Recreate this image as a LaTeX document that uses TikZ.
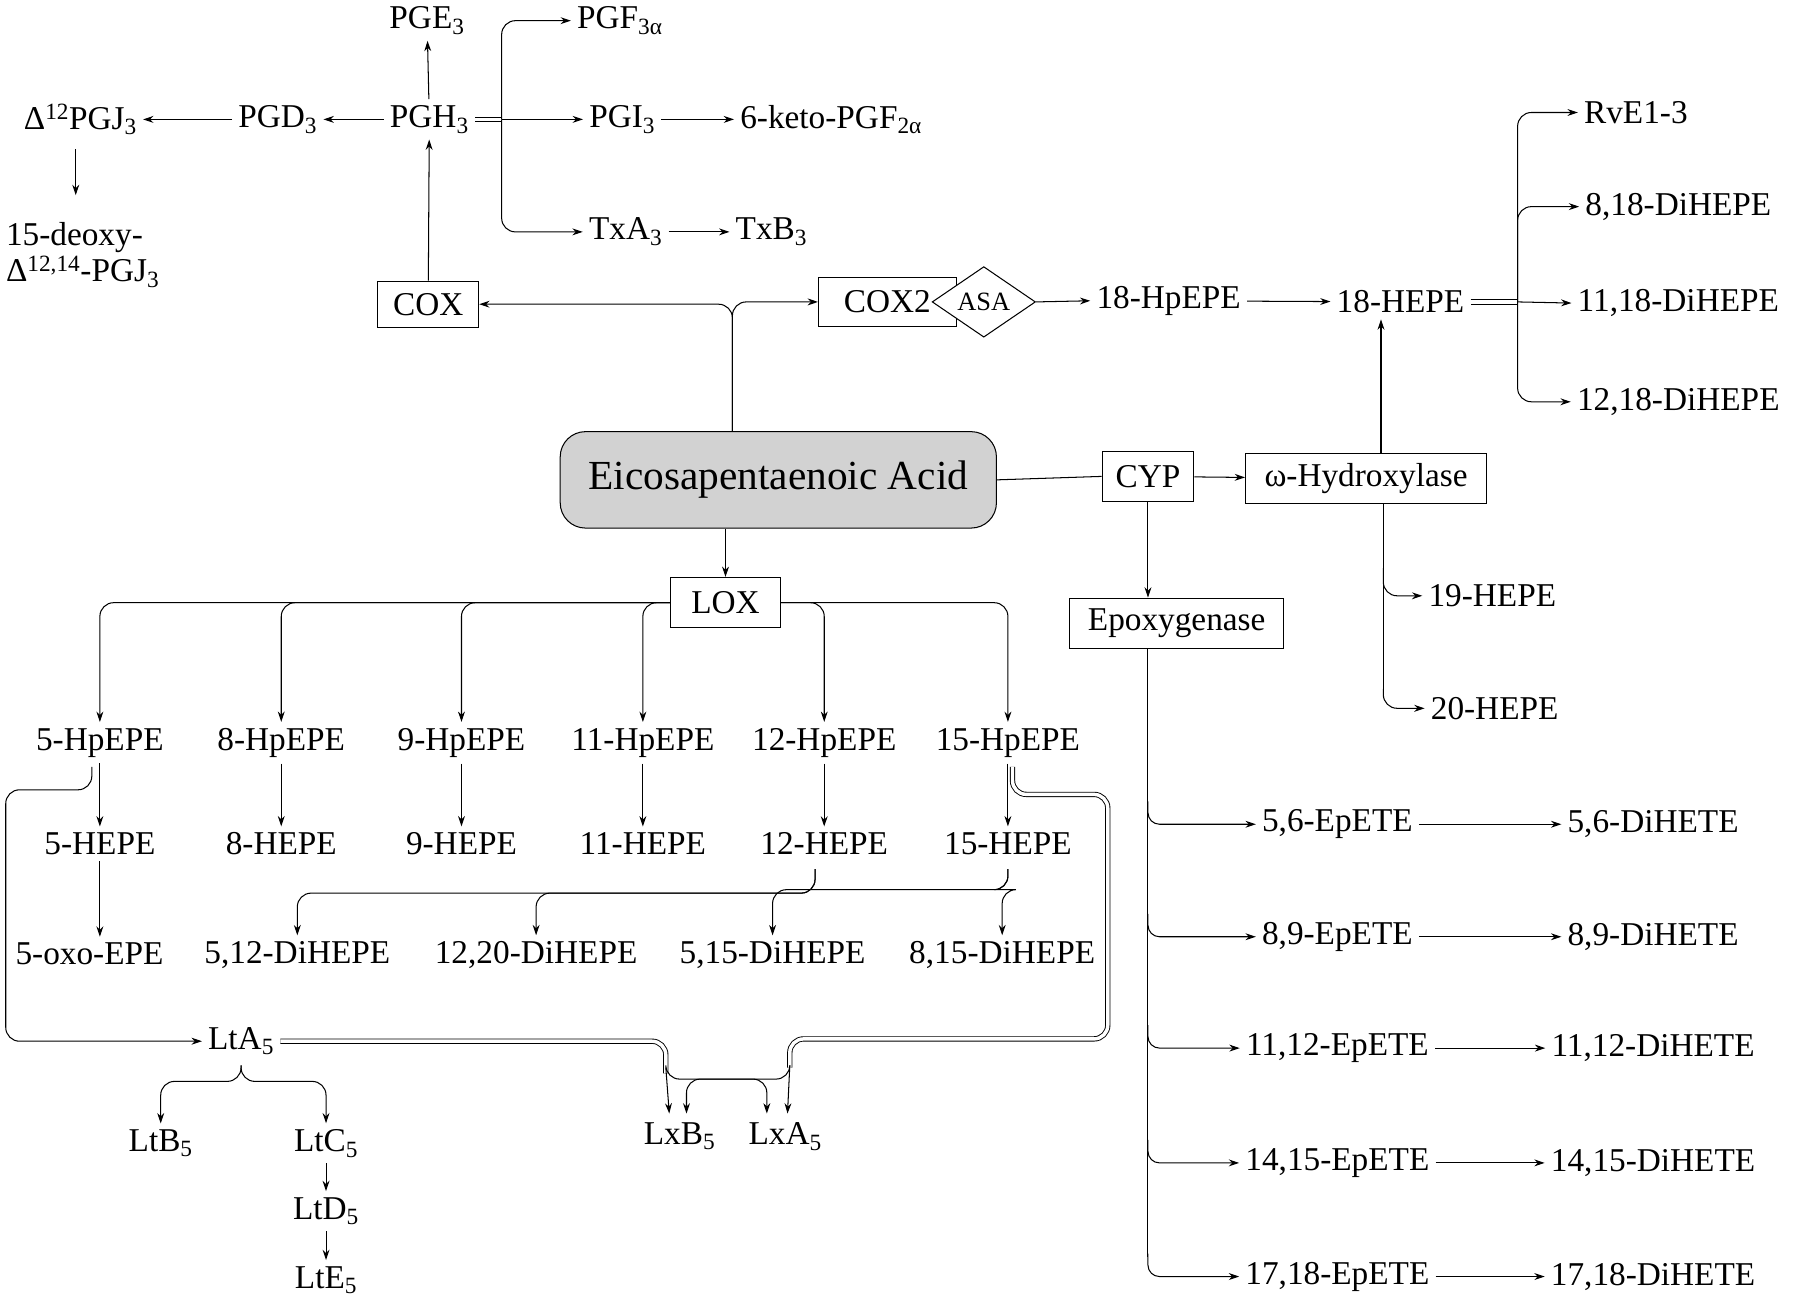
\documentclass[tikz,border=0pt]{standalone}
\usepackage{fontspec}
\setmainfont{Liberation Serif}
\usetikzlibrary{shapes.geometric,arrows.meta}
\newcommand{\fs}{\fontsize{29}{32}\selectfont}
\newcommand{\sub}[1]{\textsubscript{#1}}
\begin{document}
\begin{tikzpicture}[x=1pt,y=-1pt,line width=0.9pt,
 t/.style={font=\fs,inner sep=5pt},
 box/.style={font=\fs,draw,inner sep=0pt,minimum height=44pt},
 arr/.style={-{Stealth[length=9pt,width=6pt]}},
 rc/.style={rounded corners=12pt},
 dbl/.style={double,double distance=3pt,line width=0.8pt}]
\useasboundingbox (0,0) rectangle (1568,1135);
% COX branch
\node[t] (PGE) at (372,18) {PGE\sub{3}};
\node[t] (PGF) at (540,18) {PGF\sub{3α}};
\node[t] (PGJ) at (70,104) {Δ\textsuperscript{12}PGJ\sub{3}};
\node[t] (PGD) at (242,104) {PGD\sub{3}};
\node[t] (PGH) at (374,104) {PGH\sub{3}};
\node[t] (PGI) at (542,104) {PGI\sub{3}};
\node[t] (keto) at (724,104) {6-keto-PGF\sub{2α}};
\node[t] (TxA) at (545,202) {TxA\sub{3}};
\node[t] (TxB) at (672,202) {TxB\sub{3}};
\node[t,align=left,inner sep=1pt] (deoxy) at (72,222) {15-deoxy-\\Δ\textsuperscript{12,14}-PGJ\sub{3}};
\node[box,minimum width=88pt,minimum height=40pt] (COX) at (373,265) {COX};
\node[box,minimum width=120pt,minimum height=42pt] (COX2) at (773,263) {COX2};
\node[draw,diamond,inner sep=0pt,minimum width=90pt,minimum height=52pt,font=\fontsize{23}{26}\selectfont,fill=white] (ASA) at (857,263) {ASA};
\node[t] (HpE18) at (1018,262) {18-HpEPE};
\node[t] (HE18) at (1220,263) {18-HEPE};
\node[t] (RvE) at (1425,98) {RvE1-3};
\node[t] (D818) at (1462,180) {8,18-DiHEPE};
\node[t] (D1118) at (1462,264) {11,18-DiHEPE};
\node[t] (D1218) at (1462,350) {12,18-DiHEPE};
% center
\node[draw,fill=gray!35,rounded corners=22pt,minimum width=380pt,minimum height=84pt,font=\fontsize{36}{40}\selectfont] (EPA) at (678,418) {Eicosapentaenoic Acid};
\node[box,minimum width=80pt] (CYP) at (1000,415) {CYP};
\node[box,minimum width=210pt] (OH) at (1190,417) {ω-Hydroxylase};
\node[box,minimum width=186pt] (Epox) at (1025,543) {Epoxygenase};
\node[t] (H19) at (1300,519) {19-HEPE};
\node[t] (H20) at (1302,617) {20-HEPE};
\node[box,minimum width=96pt] (LOX) at (632,525) {LOX};
% LOX rows
\node[t] (Hp5) at (87,647) {5-HpEPE};
\node[t] (Hp8) at (245,647) {8-HpEPE};
\node[t] (Hp9) at (402,647) {9-HpEPE};
\node[t] (Hp11) at (560,647) {11-HpEPE};
\node[t] (Hp12) at (718,647) {12-HpEPE};
\node[t] (Hp15) at (878,647) {15-HpEPE};
\node[t] (H5) at (87,735) {5-HEPE};
\node[t] (H8) at (245,735) {8-HEPE};
\node[t] (H9) at (402,735) {9-HEPE};
\node[t] (H11) at (560,735) {11-HEPE};
\node[t] (H12) at (718,735) {12-HEPE};
\node[t] (H15) at (878,735) {15-HEPE};
\node[t] (oxo) at (78,831) {5-oxo-EPE};
\node[t] (D512) at (259,832) {5,12-DiHEPE};
\node[t] (D1220) at (467,832) {12,20-DiHEPE};
\node[t] (D515) at (673,832) {5,15-DiHEPE};
\node[t] (D815) at (873,832) {8,15-DiHEPE};
\node[t] (LtA) at (210,907) {LtA\sub{5}};
\node[t] (LtB) at (140,996) {LtB\sub{5}};
\node[t] (LtC) at (284,996) {LtC\sub{5}};
\node[t] (LtD) at (284,1055) {LtD\sub{5}};
\node[t] (LtE) at (284,1115) {LtE\sub{5}};
\node[t] (LxB) at (592,990) {LxB\sub{5}};
\node[t] (LxA) at (684,990) {LxA\sub{5}};
% epoxides
\foreach \n/\y/\a in {56/718/{5,6}, 89/816/{8,9}, 1112/913/{11,12}, 1415/1013/{14,15}, 1718/1112/{17,18}}{
  \node[t] (Ep\n) at (1165,\y) {\a-EpETE};
  \node[t] (Di\n) at (1440,\y) {\a-DiHETE};
  \draw[arr] (Ep\n) -- (Di\n);
  \draw[arr,rounded corners=10pt] (1000,\y-20) |- (Ep\n.west);
}
% coordinates
\coordinate (jP) at (437,104);
\coordinate (j0) at (638,376);
\coordinate (jH) at (1322,263);
\coordinate (jO) at (1205,600);
\coordinate (jE) at (1000,1095);
% COX connectors
\draw[arr] (PGH) -- (PGE);
\draw[arr] (PGH) -- (PGD);
\draw[arr] (PGD) -- (PGJ);
\draw[arr] (66,130) -- (66,170);
\draw[dbl] (PGH.east) -- (jP);
\draw[arr,rc] (jP) |- (PGF.west);
\draw[arr,rc] (jP) |- (TxA.west);
\draw[arr] (jP) -- (PGI.west);
\draw[arr] (PGI) -- (keto);
\draw[arr] (TxA) -- (TxB);
\draw[arr] (COX) -- (PGH);
\draw[arr,rc] (j0) |- (COX.east);
\draw[arr,rc] (j0) |- (COX2.west);
\draw[arr] (ASA.east) -- (HpE18.west);
\draw[arr] (HpE18) -- (HE18);
\draw[dbl] (HE18.east) -- (jH);
\draw[arr,rc] (jH) |- (RvE.west);
\draw[arr,rc] (jH) |- (D818.west);
\draw[arr] (jH) -- (D1118.west);
\draw[arr,rc] (jH) |- (D1218.west);
% CYP
\draw (EPA.east) -- (CYP.west);
\draw[arr] (CYP) -- (OH);
\draw[arr] (OH.north -| 1203,0) -- (HE18.south -| 1203,0);
\draw (OH.south -| jO) -- (jO);
\draw[arr,rc] (1205,495) |- (H19.west);
\draw[arr,rc] (jO) |- (H20.west);
\draw[arr] (CYP) -- (Epox.north -| CYP);
\draw (Epox.south -| jE) -- (jE);
% LOX
\draw[arr] (EPA.south -| LOX) -- (LOX);
\foreach \h in {Hp5,Hp8,Hp9,Hp11}{\draw[arr,rc] (LOX.west) -| (\h.north);}
\foreach \h in {Hp12,Hp15}{\draw[arr,rc] (LOX.east) -| (\h.north);}
\foreach \a/\b in {Hp5/H5,Hp8/H8,Hp9/H9,Hp11/H11,Hp12/H12,Hp15/H15,LtC/LtD,LtD/LtE}{\draw[arr] (\a) -- (\b);}
\draw[arr] (H5.south) -- (oxo.north -| H5);
\draw[arr,rc] (710,757) -- (710,778) -| (D512.north);
\draw[arr,rc] (710,757) -- (710,778) -| (D1220.north);
\draw[arr,rc] (878,757) -- (878,775) -| (D515.north);
\draw[arr,rc] (878,757) -- (878,775) -| (D815.north);
\draw[arr,rc] (80,668) |- (5,688) |- (LtA.west);
\draw[arr,rc] (210,928) -- (210,942) -| (LtB.north);
\draw[arr,rc] (210,928) -- (210,942) -| (LtC.north);
\draw[dbl,rc] (LtA.east) -| (580,935);
\draw[arr] (580,930) -- (583,970);
\draw[arr,rc] (580,930) -- (580,940) -| (668,970);
\draw[dbl,rc] (882,668) |- (965,692) |- (688,905) -- (688,930);
\draw[arr] (688,928) -- (686,970);
\draw[arr,rc] (688,928) -- (688,940) -| (598,970);
\end{tikzpicture}
\end{document}
